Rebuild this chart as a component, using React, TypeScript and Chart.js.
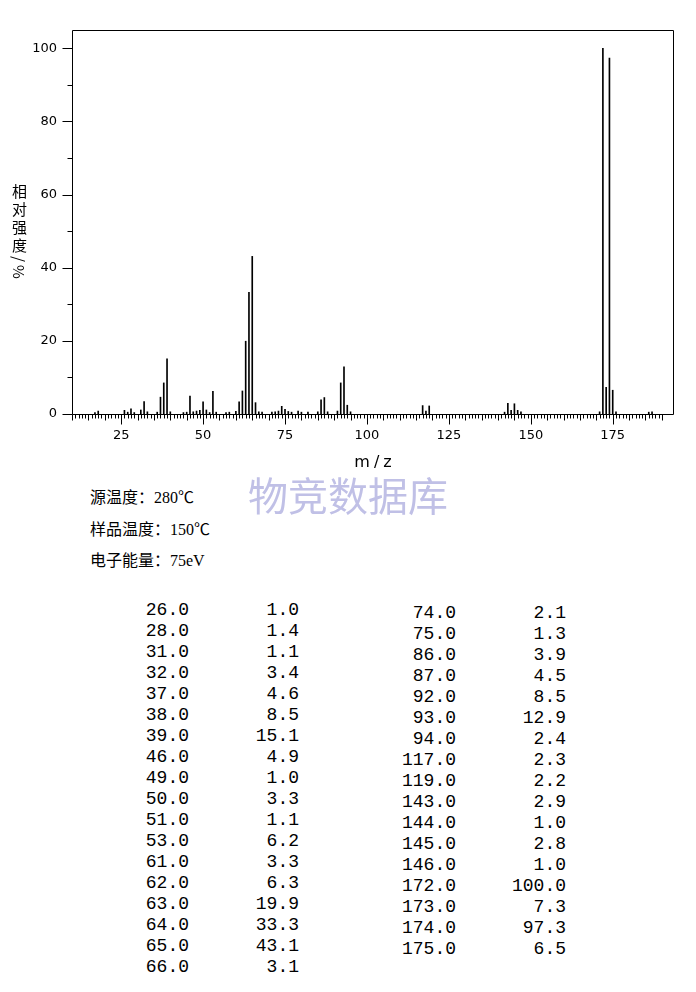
import { useEffect, useRef } from "react";
import { Chart, registerables } from "chart.js";

Chart.register(...registerables);

// Peak list (m/z, relative intensity %) as printed in the table
const PEAK_MZ = [26, 28, 31, 32, 37, 38, 39, 46, 49, 50, 51, 53, 61, 62, 63, 64, 65, 66, 74, 75, 86, 87, 92, 93, 94, 117, 119, 143, 144, 145, 146, 172, 173, 174, 175];
const PEAK_INT = [1.0, 1.4, 1.1, 3.4, 4.6, 8.5, 15.1, 4.9, 1.0, 3.3, 1.1, 6.2, 3.3, 6.3, 19.9, 33.3, 43.1, 3.1, 2.1, 1.3, 3.9, 4.5, 8.5, 12.9, 2.4, 2.3, 2.2, 2.9, 1.0, 2.8, 1.0, 100.0, 7.3, 97.3, 6.5];

// Small (< 1 %) peaks visible in the plot but not in the table (estimated)
const MINOR_MZ = [17, 18, 27, 29, 33, 36, 40, 44, 45, 47, 48, 52, 54, 57, 58, 60, 67, 68, 71, 72, 73, 76, 77, 79, 80, 82, 85, 88, 91, 95, 118, 142, 147, 171, 176, 186, 187];
const MINOR_INT = [0.4, 0.8, 0.5, 0.4, 0.6, 0.5, 0.6, 0.4, 0.5, 0.6, 0.8, 0.4, 0.5, 0.4, 0.5, 0.7, 0.6, 0.5, 0.5, 0.6, 0.8, 0.7, 0.5, 0.8, 0.5, 0.5, 0.6, 0.6, 0.8, 0.6, 0.8, 0.5, 0.6, 0.6, 0.6, 0.5, 0.6];

const X_TICKS = [25, 50, 75, 100, 125, 150, 175];
const Y_TICKS = [0, 20, 40, 60, 80, 100];
const X_MIN = 10;
const X_MAX = 193.7;
const Y_MIN = 0;
const Y_MAX = 105;
const X_MINOR_FIRST = 10;
const X_MINOR_LAST = 190;
const Y_MINOR_STEP = 10;

const X_TITLE = "m/z";
const Y_TITLE = "相对强度/%";
const CONDITIONS = ["源温度：280℃", "样品温度：150℃", "电子能量：75eV"];
const WATERMARK = "物竞数据库";
const TABLE_SPLIT = 18;

const frameAndTicks = {
  id: "frameAndTicks",
  afterDraw(chart: any) {
    const { ctx, chartArea: a, scales } = chart;
    const x = scales.x;
    const y = scales.y;
    ctx.save();
    ctx.strokeStyle = "#000";
    ctx.lineWidth = 1;
    const L = Math.round(a.left) + 0.5;
    const R = Math.round(a.right) - 0.5;
    const T = Math.round(a.top) + 0.5;
    const B = Math.round(a.bottom) + 0.5;
    ctx.beginPath();
    ctx.rect(L, T, R - L, B - T);
    for (let v = X_MINOR_FIRST; v <= X_MINOR_LAST; v++) {
      const px = Math.round(x.getPixelForValue(v)) + 0.5;
      const len = v % 25 === 0 ? 10 : v % 5 === 0 ? 6 : 4;
      ctx.moveTo(px, B);
      ctx.lineTo(px, B + len);
    }
    for (let v = Y_MIN; v <= 100; v += Y_MINOR_STEP) {
      const py = Math.round(y.getPixelForValue(v)) + 0.5;
      const len = v % 20 === 0 ? 10 : 5;
      ctx.moveTo(L, py);
      ctx.lineTo(L - len, py);
    }
    ctx.stroke();
    ctx.fillStyle = "#000";
    ctx.font = '16px "DejaVu Sans"';
    (ctx as any).letterSpacing = "4px";
    ctx.textAlign = "center";
    ctx.textBaseline = "middle";
    ctx.fillText(X_TITLE, (a.left + a.right) / 2 + 2, 463);
    ctx.restore();
  },
};

function SpectrumChart() {
  const ref = useRef<HTMLCanvasElement | null>(null);
  useEffect(() => {
    if (!ref.current) return;
    const points = PEAK_MZ.map((m, i) => ({ x: m, y: PEAK_INT[i] }))
      .concat(MINOR_MZ.map((m, i) => ({ x: m, y: MINOR_INT[i] })))
      .sort((p, q) => p.x - q.x);
    const tickFont = { family: "DejaVu Sans", size: 13 };
    const chart = new Chart(ref.current, {
      type: "bar",
      data: {
        datasets: [
          {
            data: points as any,
            backgroundColor: "#000",
            borderWidth: 0,
            barThickness: 1,
            grouped: false,
          } as any,
        ],
      },
      options: {
        animation: false,
        responsive: false,
        maintainAspectRatio: false,
        layout: { padding: { top: 30, right: 22, left: 0, bottom: 0 } },
        plugins: { legend: { display: false }, tooltip: { enabled: false } },
        scales: {
          x: {
            type: "linear",
            min: X_MIN,
            max: X_MAX,
            offset: false,
            grid: { display: false, drawTicks: true, tickLength: 6 },
            border: { display: false },
            ticks: {
              font: tickFont,
              color: "#000",
              padding: 8,
              maxRotation: 0,
              autoSkip: false,
              callback: (v: any) => String(v),
            },
            afterBuildTicks: (s: any) => {
              s.ticks = X_TICKS.map((value) => ({ value }));
            },
            afterFit: (s: any) => {
              s.height = 66;
            },
          } as any,
          y: {
            type: "linear",
            min: Y_MIN,
            max: Y_MAX,
            grid: { display: false, drawTicks: true, tickLength: 10 },
            border: { display: false },
            ticks: {
              font: tickFont,
              color: "#000",
              padding: 5,
              autoSkip: false,
              callback: (v: any) => String(v),
            },
            afterBuildTicks: (s: any) => {
              s.ticks = Y_TICKS.map((value) => ({ value }));
            },
            afterFit: (s: any) => {
              s.width = 72;
            },
          } as any,
        },
      },
      plugins: [frameAndTicks],
    });
    return () => chart.destroy();
  }, []);
  return (
    <canvas
      ref={ref}
      width={696}
      height={480}
      style={{ position: "absolute", left: 0, top: 0, width: 696, height: 480, display: "block" }}
    />
  );
}

function Column({ mz, val, left, top }: { mz: number[]; val: number[]; left: number; top: number }) {
  return (
    <div style={{ position: "absolute", left, top, fontFamily: '"Liberation Mono", "Courier New", monospace', fontSize: 18, color: "#000" }}>
      {mz.map((m, i) => (
        <div key={i} style={{ display: "flex", height: 21, lineHeight: "21px", whiteSpace: "pre" }}>
          <span style={{ width: 80, textAlign: "right" }}>{m.toFixed(1)}</span>
          <span style={{ width: 110, textAlign: "right" }}>{val[i].toFixed(1)}</span>
        </div>
      ))}
    </div>
  );
}

export default function App() {
  return (
    <div style={{ position: "absolute", left: 0, top: 0, width: 696, height: 992, background: "#fff", overflow: "hidden" }}>
      <SpectrumChart />
      <div
        style={{
          position: "absolute",
          left: 12,
          top: 184,
          writingMode: "vertical-rl",
          fontFamily: '"Noto Sans CJK SC", sans-serif',
          fontSize: 15,
          lineHeight: "15px",
          letterSpacing: 3,
          color: "#000",
        }}
      >
        {Y_TITLE}
      </div>
      <div
        style={{
          position: "absolute",
          left: 248,
          top: 474,
          fontFamily: '"Noto Sans CJK SC", sans-serif',
          fontSize: 40,
          lineHeight: "40px",
          color: "rgb(192,192,230)",
          whiteSpace: "nowrap",
        }}
      >
        {WATERMARK}
      </div>
      {CONDITIONS.map((c, i) => (
        <div
          key={i}
          style={{
            position: "absolute",
            left: 90,
            top: [487.5, 519.5, 550.5][i],
            fontFamily: '"Liberation Serif", "Noto Sans CJK SC", serif',
            fontSize: 16,
            lineHeight: "20px",
            color: "#000",
            whiteSpace: "nowrap",
          }}
        >
          {c}
        </div>
      ))}
      <Column mz={PEAK_MZ.slice(0, TABLE_SPLIT)} val={PEAK_INT.slice(0, TABLE_SPLIT)} left={109} top={600} />
      <Column mz={PEAK_MZ.slice(TABLE_SPLIT)} val={PEAK_INT.slice(TABLE_SPLIT)} left={376} top={603} />
    </div>
  );
}
